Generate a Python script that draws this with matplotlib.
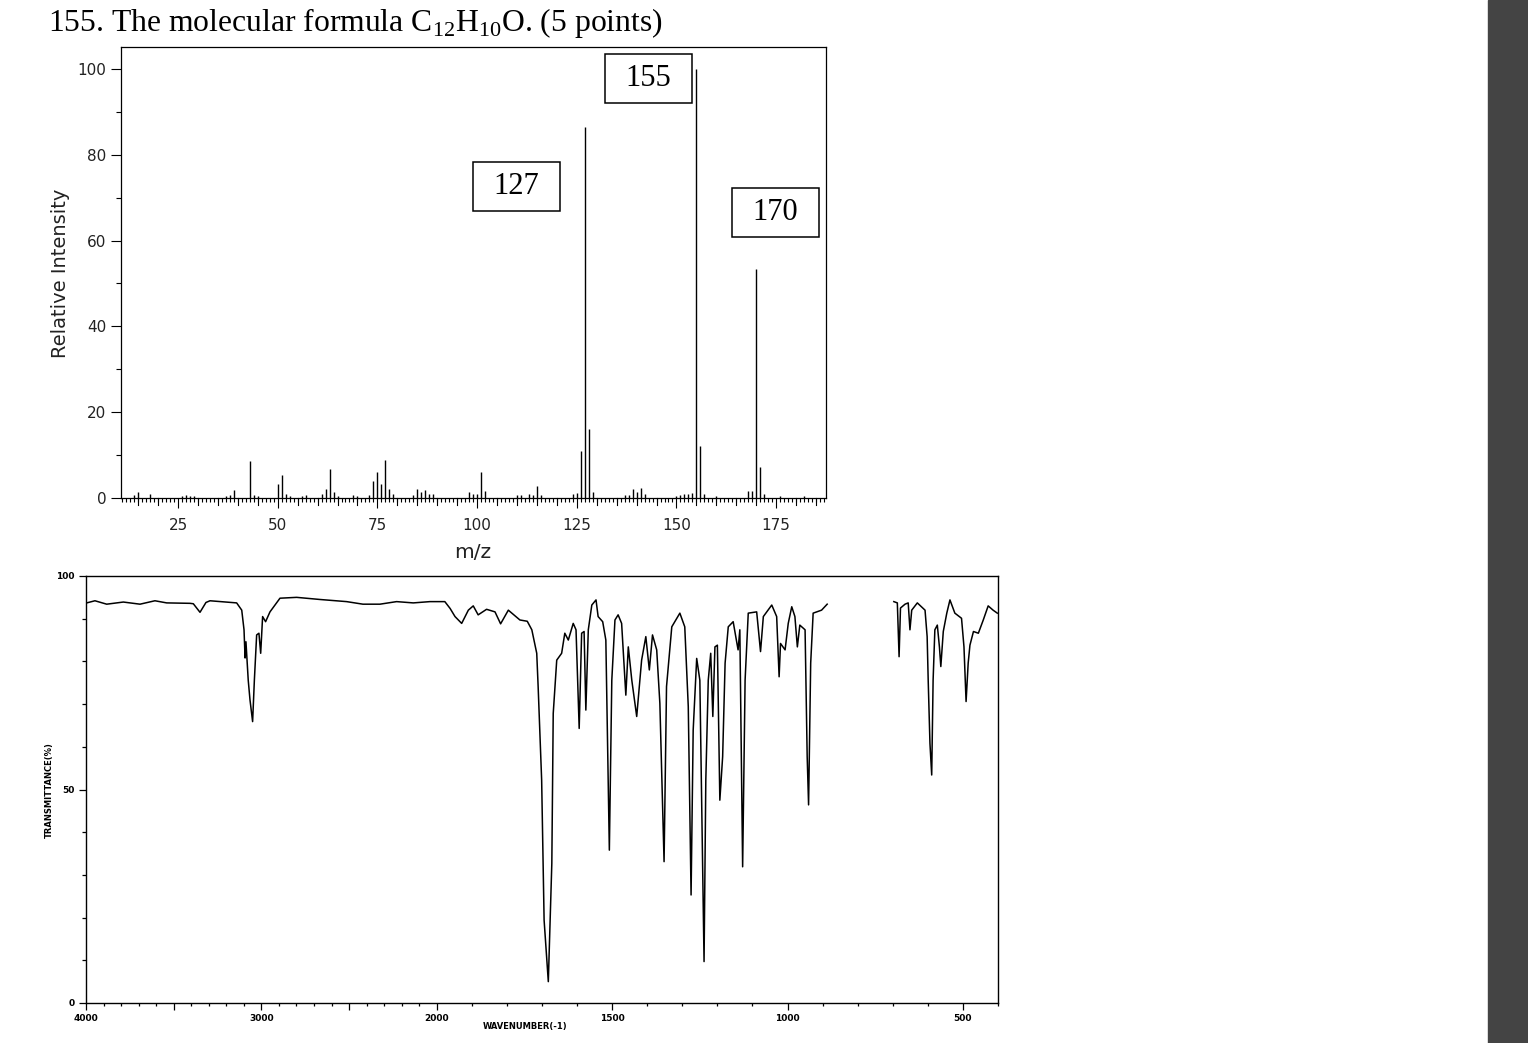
import numpy as np
import matplotlib.pyplot as plt
from matplotlib.patches import Rectangle
from matplotlib.ticker import MultipleLocator, FixedLocator

plt.rcParams['mathtext.fontset'] = 'custom'
plt.rcParams['mathtext.rm'] = 'Liberation Serif'

# mass spectrum peaks (m/z, relative intensity)
ms_mz = [14, 15, 18, 26, 27, 28, 29, 37, 38, 39, 43, 44, 45, 50, 51, 52, 53, 56, 57,
         61, 62, 63, 64, 65, 69, 70, 73, 74, 75, 76, 77, 78, 79, 84, 85, 86, 87, 88, 89,
         98, 99, 100, 101, 102, 110, 111, 113, 114, 115, 116, 124, 125, 126, 127, 128, 129,
         137, 138, 139, 140, 141, 142, 150, 151, 152, 153, 154, 155, 156, 157, 160,
         168, 169, 170, 171, 172, 176, 182]
ms_int = [0.6, 1.5, 0.9, 0.5, 0.6, 0.5, 0.4, 0.5, 0.8, 1.8, 8.6, 0.6, 0.4, 3.3, 5.4, 0.9, 0.5, 0.4, 0.8,
          1.0, 2.1, 6.8, 1.3, 0.4, 0.7, 0.5, 0.6, 4.0, 6.0, 3.2, 8.9, 2.2, 1.0, 0.6, 2.1, 1.3, 1.8, 1.0, 1.0,
          1.3, 0.9, 0.9, 6.0, 1.6, 0.6, 0.8, 1.0, 0.6, 2.9, 0.8, 1.0, 1.2, 10.9, 86.4, 16.1, 1.5,
          0.6, 0.8, 2.2, 1.4, 2.4, 1.0, 0.5, 0.8, 1.0, 1.0, 1.1, 100.0, 12.2, 1.0, 0.5,
          1.6, 1.6, 53.4, 7.2, 1.0, 0.4, 0.5]
ms_labels = ['127', '155', '170']
ms_label_pos = [(109.9, 72.6), (143.0, 97.8), (174.8, 66.5)]

# IR spectrum (wavenumber, transmittance %), two recorded segments
ir_wn1 = [3996, 3949, 3882, 3787, 3692, 3607, 3540, 3407, 3388, 3350, 3316, 3293, 3141, 3112,
          3099, 3093, 3088, 3075, 3065, 3050, 3040, 3027, 3014, 3004, 2993, 2976, 2951, 2894,
          2799, 2666, 2514, 2421, 2324, 2229, 2134, 2039, 1977, 1962, 1948, 1929, 1910, 1896,
          1882, 1858, 1834, 1818, 1796, 1763, 1742, 1729, 1715, 1711, 1701, 1694, 1682, 1672,
          1668, 1658, 1644, 1635, 1625, 1611, 1603, 1594, 1587, 1580, 1575, 1568, 1558, 1546,
          1540, 1527, 1518, 1508, 1501, 1492, 1483, 1473, 1461, 1454, 1444, 1430, 1416, 1404,
          1394, 1385, 1373, 1364, 1352, 1345, 1330, 1307, 1293, 1283, 1275, 1269, 1259, 1250,
          1238, 1233, 1226, 1219, 1213, 1207, 1200, 1193, 1185, 1178, 1169, 1155, 1141, 1136,
          1128, 1121, 1112, 1088, 1077, 1069, 1045, 1031, 1024, 1020, 1007, 998, 988, 979,
          972, 965, 950, 944, 940, 934, 927, 903, 887]
ir_t1 = [93.7, 94.2, 93.4, 93.9, 93.4, 94.2, 93.7, 93.6, 93.5, 91.5, 93.8, 94.2, 93.7, 92.0,
         87.4, 80.8, 84.6, 75.6, 71.0, 65.9, 75.6, 86.2, 86.6, 81.9, 90.5, 89.3, 91.6, 94.8,
         95.0, 94.5, 94.0, 93.4, 93.4, 94.0, 93.7, 94.0, 94.0, 92.4, 90.5, 88.9, 92.0, 93.0,
         90.9, 92.2, 91.6, 88.8, 92.0, 89.7, 89.4, 87.4, 81.9, 74.1, 52.2, 19.4, 5.0, 32.7,
         67.8, 80.3, 81.9, 86.6, 85.0, 88.9, 87.4, 64.3, 86.6, 87.0, 68.6, 87.4, 93.2, 94.4,
         90.5, 89.3, 85.0, 35.8, 75.6, 89.7, 90.9, 88.9, 72.1, 83.4, 75.6, 67.1, 80.3, 85.8,
         78.0, 86.2, 82.7, 70.2, 33.1, 74.1, 88.1, 91.3, 88.1, 69.4, 25.3, 63.9, 80.7, 75.6,
         9.7, 52.2, 75.6, 81.9, 67.1, 83.4, 83.8, 47.5, 57.7, 79.6, 88.1, 89.3, 82.7, 87.4,
         31.9, 75.6, 91.3, 91.6, 82.3, 90.5, 93.2, 90.5, 76.4, 84.2, 82.7, 88.9, 92.8, 90.5,
         83.4, 88.5, 87.4, 57.7, 46.4, 79.6, 91.3, 92.0, 93.4]
ir_wn2 = [697, 687, 682, 678, 665, 656, 651, 646, 630, 608, 602, 599, 594, 589, 585, 580,
          573, 567, 563, 556, 546, 537, 523, 504, 497, 491, 485, 480, 470, 456, 442, 428, 414, 402]
ir_t2 = [94.0, 93.7, 81.1, 92.5, 93.4, 93.7, 87.4, 92.0, 93.7, 92.0, 85.8, 75.6, 60.8, 53.4, 75.6, 87.4,
         88.5, 83.4, 78.8, 87.0, 91.3, 94.4, 91.3, 90.1, 83.4, 70.6, 79.6, 83.8, 87.0, 86.6, 89.7, 93.0, 92.0, 91.3]

W, H = 1528, 1043
fig = plt.figure(figsize=(W / 100, H / 100), dpi=100)

# dark band on the right edge
fig.patches.append(Rectangle((1488 / W, 0), 40 / W, 1, transform=fig.transFigure,
                             color='#444444', zorder=-1))

fig.text(48 / W, 1 - 31 / H, r'155. The molecular formula C$_{12}$H$_{10}$O. (5 points)',
         fontfamily='Liberation Serif', fontsize=22.8, va='baseline', ha='left')

# ---- mass spectrum ----
ax1 = fig.add_axes([121 / W, 1 - 498 / H, 705 / W, 451 / H])
ax1.vlines(ms_mz, 0, ms_int, color='black', lw=1.0)
ax1.set_xlim(10.7, 187.5)
ax1.set_ylim(0, 105.1)
ax1.xaxis.set_major_locator(MultipleLocator(25))
ax1.xaxis.set_minor_locator(FixedLocator([v for v in range(11, 188) if v % 25 != 0]))
ax1.yaxis.set_major_locator(MultipleLocator(20))
ax1.yaxis.set_minor_locator(MultipleLocator(10))
ax1.tick_params(which='major', direction='out', length=7.2, width=0.8, labelsize=11,
                colors='black', labelcolor='#222222')
ax1.tick_params(axis='x', which='major', pad=7)
ax1.tick_params(which='minor', direction='out', length=2.9, width=0.8)
ax1.tick_params(axis='y', which='minor', length=3.5)
# slightly longer ticks every 5 m/z
mid = [v for v in range(15, 188, 5) if v % 25 != 0]
for v in mid:
    ax1.plot([v, v], [0, -4.7 / 72 * 100 / 4.29], color='black', lw=0.8, clip_on=False)
for s in ax1.spines.values():
    s.set_linewidth(0.9)
for lab, (x, y) in zip(ms_labels, ms_label_pos):
    ax1.add_patch(Rectangle((x - 10.9, y - 5.7), 21.8, 11.4, fill=False, ec='black', lw=1.1))
    ax1.text(x, y, lab, fontfamily='Liberation Serif', fontsize=22, ha='center', va='center')
fig.text(60 / W, 1 - 273 / H, 'Relative Intensity', rotation=90, fontsize=14,
         ha='center', va='center', color='#222222')
fig.text(473 / W, 1 - 553 / H, 'm/z', fontsize=14.5, ha='center', va='center', color='#222222')

# ---- IR spectrum (split scale: 4000-2000 compressed by 2) ----
def fwd(w):
    w = np.asarray(w, dtype=float)
    return np.where(w > 2000, 2000 + (w - 2000) / 2, w)

def inv(u):
    u = np.asarray(u, dtype=float)
    return np.where(u > 2000, 2000 + (u - 2000) * 2, u)

ax2 = fig.add_axes([86 / W, 1 - 1003 / H, 912 / W, 427 / H])
ax2.set_xscale('function', functions=(fwd, inv))
ax2.plot(ir_wn1, ir_t1, color='black', lw=1.1)
ax2.plot(ir_wn2, ir_t2, color='black', lw=1.1)
ax2.set_xlim(4000, 400)
ax2.set_ylim(0, 100)
ax2.xaxis.set_major_locator(FixedLocator([4000, 3500, 3000, 2500, 2000, 1500, 1000, 500]))
ax2.xaxis.set_minor_locator(FixedLocator(list(range(400, 4000, 100))))
ax2.set_xticklabels(['4000', '', '3000', '', '2000', '1500', '1000', '500'])
ax2.yaxis.set_major_locator(FixedLocator([0, 50, 100]))
ax2.yaxis.set_minor_locator(MultipleLocator(10))
ax2.tick_params(which='major', direction='out', length=5, width=0.9, labelsize=6.5, pad=3)
ax2.tick_params(which='minor', direction='out', length=2, width=0.9)
ax2.tick_params(axis='y', which='minor', length=3)
for t in ax2.get_xticklabels() + ax2.get_yticklabels():
    t.set_fontweight('bold')
for s in ax2.spines.values():
    s.set_linewidth(1.0)
fig.text(525 / W, 1 - 1027 / H, 'WAVENUMBER(-1)', fontsize=6, fontweight='bold',
         ha='center', va='center')
fig.text(49 / W, 1 - 790 / H, 'TRANSMITTANCE(%)', fontsize=6, fontweight='bold',
         rotation=90, ha='center', va='center')

fig.savefig('out.png', dpi=100)
